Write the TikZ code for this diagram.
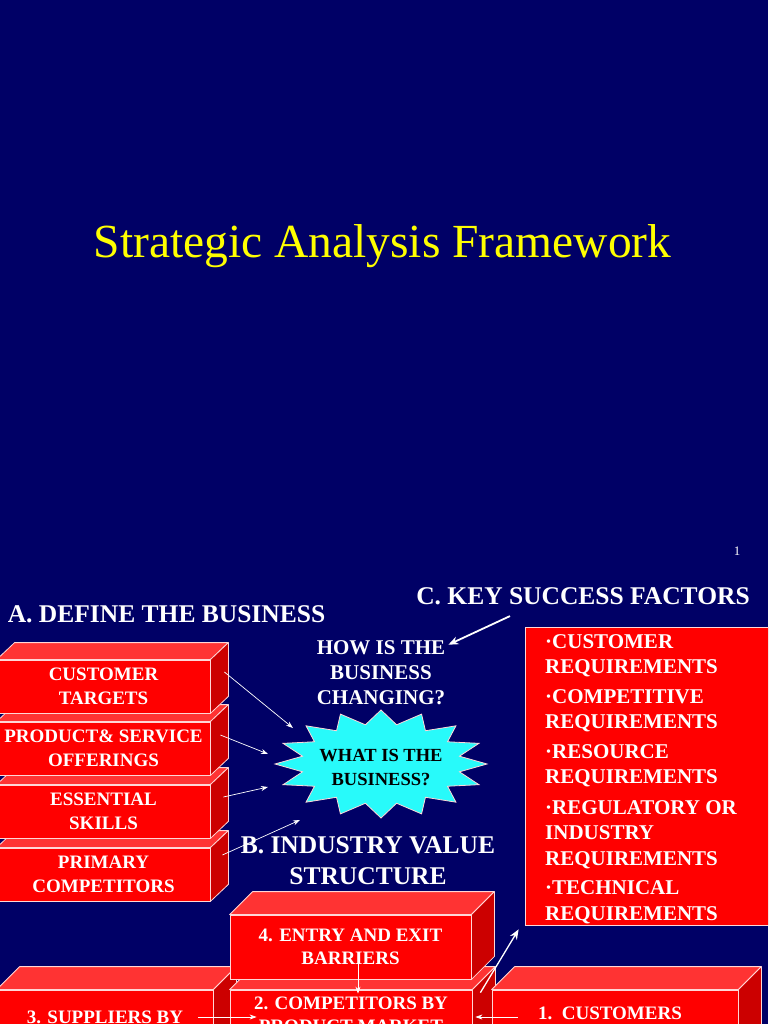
\documentclass[tikz,border=0pt]{standalone}
\usepackage{fontspec}
\setmainfont{Liberation Serif}
\usetikzlibrary{arrows.meta}
\definecolor{navy}{RGB}{0,0,102}
\definecolor{slabred}{RGB}{255,0,0}
\definecolor{slabtop}{RGB}{255,51,51}
\definecolor{slabside}{RGB}{204,0,0}
\definecolor{burstcyan}{RGB}{40,250,250}
\definecolor{edge}{RGB}{255,214,214}
\definecolor{titleyellow}{RGB}{255,255,0}
\begin{document}
\begin{tikzpicture}[x=1pt,y=-1pt,
slab/.style={rectangle,fill=slabred,draw=edge,line width=0.8pt,inner sep=0pt,minimum width=213pt,minimum height=53pt,text=white,align=center,font=\fontsize{19}{23.5}\selectfont\bfseries},
face/.style={fill=slabtop,draw=edge,line width=0.8pt,line join=round},
side/.style={fill=slabside,draw=edge,line width=0.8pt,line join=round},
lbl/.style={text=white,inner sep=0pt,align=center,font=\fontsize{25.5}{31}\selectfont\bfseries},
qtxt/.style={text=white,inner sep=0pt,align=center,font=\fontsize{21}{25}\selectfont\bfseries},
thinarr/.style={draw=white,line width=0.7pt,-{Stealth[length=7pt,width=5pt]}},
fatarr/.style={draw=white,line width=1.8pt,-{Stealth[length=10pt,width=8pt]}}]
\def\dx{18};
\def\dy{17};
\def\Dx{23};
\useasboundingbox (0,0) rectangle (768,1024);
\clip (0,0) rectangle (768,1024);
\fill[navy] (0,0) rectangle (768,1024);
\node[anchor=base,text=titleyellow,inner sep=0pt,font=\fontsize{47.5}{50}\selectfont] (ttl) at (382.5,258) {Strategic Analysis Framework};
\node[text=white,inner sep=0pt,font=\fontsize{13}{15}\selectfont] (pg) at (737,551) {1};
\node[lbl,anchor=base] (def) at (166.5,622.5) {A. DEFINE THE BUSINESS};
\node[lbl,anchor=base] (ksf) at (583,604.5) {C. KEY SUCCESS FACTORS};
\node[lbl] (ivs) at (368,860.5) {B. INDUSTRY VALUE\\STRUCTURE};
\node[qtxt] (how) at (381,673) {HOW IS THE\\BUSINESS\\CHANGING?};
\draw[fatarr] ([shift={(-73,11)}]ksf.south) -- ([shift={(3,4)}]how.north east);
\node[rectangle,fill=slabred,draw=edge,line width=0.8pt,minimum width=244pt,minimum height=298pt] (kf) at (647,776) {};
\node[qtxt,align=left,anchor=north west,font=\fontsize{21}{25.5}\selectfont\bfseries] (kl) at (545,634) {·CUSTOMER\\REQUIREMENTS\\[4pt]·COMPETITIVE\\REQUIREMENTS\\[4pt]·RESOURCE\\REQUIREMENTS\\[5pt]·REGULATORY OR\\INDUSTRY\\REQUIREMENTS\\[4pt]·TECHNICAL\\REQUIREMENTS};
\node[slab] (pc) at (103.5,874.5) {PRIMARY\\COMPETITORS};
\draw[face] (pc.north west) -- ++(\dx,-\dy) -- ([shift={(\dx,-\dy)}]pc.north east) -- (pc.north east) -- cycle;
\draw[side] (pc.north east) -- ++(\dx,-\dy) -- ([shift={(\dx,-\dy)}]pc.south east) -- (pc.south east) -- cycle;
\node[slab] (es) at (103.5,811.5) {ESSENTIAL\\SKILLS};
\draw[face] (es.north west) -- ++(\dx,-\dy) -- ([shift={(\dx,-\dy)}]es.north east) -- (es.north east) -- cycle;
\draw[side] (es.north east) -- ++(\dx,-\dy) -- ([shift={(\dx,-\dy)}]es.south east) -- (es.south east) -- cycle;
\node[slab] (ps) at (103.5,748.5) {PRODUCT\& SERVICE\\OFFERINGS};
\draw[face] (ps.north west) -- ++(\dx,-\dy) -- ([shift={(\dx,-\dy)}]ps.north east) -- (ps.north east) -- cycle;
\draw[side] (ps.north east) -- ++(\dx,-\dy) -- ([shift={(\dx,-\dy)}]ps.south east) -- (ps.south east) -- cycle;
\node[slab] (ct) at (103.5,686.5) {CUSTOMER\\TARGETS};
\draw[face] (ct.north west) -- ++(\dx,-\dy) -- ([shift={(\dx,-\dy)}]ct.north east) -- (ct.north east) -- cycle;
\draw[side] (ct.north east) -- ++(\dx,-\dy) -- ([shift={(\dx,-\dy)}]ct.south east) -- (ct.south east) -- cycle;
\begin{scope}[shift={(381,764)}]
\draw[fill=burstcyan,draw=edge,line width=0.8pt,line join=miter] (0:106pt and 54pt) \foreach \i in {1,...,15} { -- (\i*22.5-11.25:80pt and 40pt) -- (\i*22.5:106pt and 54pt) } -- (348.75:80pt and 40pt) -- cycle;
\end{scope}
\node[qtxt,text=black,font=\fontsize{18.5}{24}\selectfont\bfseries] (what) at (381,767) {WHAT IS THE\\BUSINESS?};
\coordinate (w1) at (293,728);
\coordinate (w2) at (268,754);
\coordinate (w3) at (268,787);
\coordinate (w4) at (300,820);
\draw[thinarr] ([shift={(14,-14.5)}]ct.east) -- (w1);
\draw[thinarr] ([shift={(10,-13.5)}]ps.east) -- (w2);
\draw[thinarr] ([shift={(13,-14.5)}]es.east) -- (w3);
\draw[thinarr] ([shift={(12,-19.5)}]pc.east) -- (w4);
\node[slab,minimum width=216pt,minimum height=80pt] (sp) at (105,1030) {};
\draw[face] (sp.north west) -- ++(\Dx,-\Dx) -- ([shift={(\Dx,-\Dx)}]sp.north east) -- (sp.north east) -- cycle;
\draw[side] (sp.north east) -- ++(\Dx,-\Dx) -- ([shift={(\Dx,-\Dx)}]sp.south east) -- (sp.south east) -- cycle;
\node[slab,minimum width=242pt,minimum height=80pt] (cm) at (351,1030) {};
\draw[face] (cm.north west) -- ++(\Dx,-\Dx) -- ([shift={(\Dx,-\Dx)}]cm.north east) -- (cm.north east) -- cycle;
\draw[side] (cm.north east) -- ++(\Dx,-\Dx) -- ([shift={(\Dx,-\Dx)}]cm.south east) -- (cm.south east) -- cycle;
\node[slab,minimum width=246pt,minimum height=80pt] (cu) at (615,1030) {};
\draw[face] (cu.north west) -- ++(\Dx,-\Dx) -- ([shift={(\Dx,-\Dx)}]cu.north east) -- (cu.north east) -- cycle;
\draw[side] (cu.north east) -- ++(\Dx,-\Dx) -- ([shift={(\Dx,-\Dx)}]cu.south east) -- (cu.south east) -- cycle;
\node[slab,minimum width=241pt,minimum height=64pt] (eb) at (350.5,947) {4. ENTRY AND EXIT\\BARRIERS};
\draw[face] (eb.north west) -- ++(\Dx,-\Dx) -- ([shift={(\Dx,-\Dx)}]eb.north east) -- (eb.north east) -- cycle;
\draw[side] (eb.north east) -- ++(\Dx,-\Dx) -- ([shift={(\Dx,-\Dx)}]eb.south east) -- (eb.south east) -- cycle;
\node[qtxt,font=\fontsize{19}{23.5}\selectfont\bfseries] (spl) at (105,1017) {3. SUPPLIERS BY};
\node[qtxt,font=\fontsize{19}{23.5}\selectfont\bfseries] (cml) at (351,1015) {2. COMPETITORS BY\\PRODUCT MARKET};
\node[qtxt,font=\fontsize{19}{23.5}\selectfont\bfseries] (cul) at (610,1013) {1.\ \ CUSTOMERS};
\draw[thinarr] ([shift={(7.5,15)}]eb.center) -- ([shift={(7,4)}]cm.north);
\draw[thinarr] ([shift={(-15,-13)}]sp.east) -- ([shift={(27,-13)}]cm.west);
\draw[thinarr] ([shift={(26,-13)}]cu.west) -- ([shift={(3,-13)}]cm.east);
\draw[fatarr,line width=1.3pt] ([shift={(8,3)}]cm.north east) -- ([shift={(-6,4)}]kf.south west);
\end{tikzpicture}
\end{document}
